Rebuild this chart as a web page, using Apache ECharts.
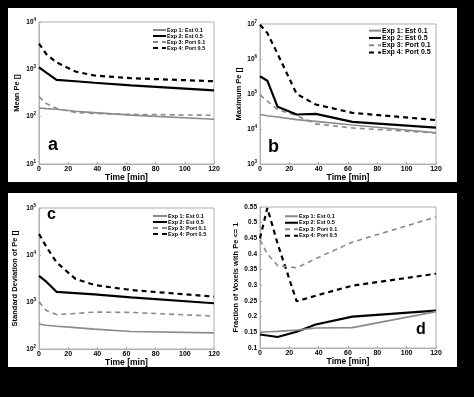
<!DOCTYPE html>
<html>
<head>
<meta charset="utf-8">
<script src="https://cdn.jsdelivr.net/npm/echarts@6/dist/echarts.min.js"></script>
<style>
  html, body { margin: 0; padding: 0; background: #000; }
  #main { width: 474px; height: 397px; }
</style>
</head>
<body>
<div id="main"></div>
<script>
var times = [0, 5, 12, 25, 38, 63, 120];
var expNames = ['Exp 1: Est 0.1', 'Exp 2: Est 0.5', 'Exp 3: Port 0.1', 'Exp 4: Port 0.5'];
var xTicks = [0, 20, 40, 60, 80, 100, 120];

// a: mean Pe
var meanExp1 = [152, 148, 143, 130, 122, 108, 88];
var meanExp2 = [1100, 850, 600, 560, 520, 460, 360];
var meanExp3 = [265, 190, 150, 122, 117, 112, 107];
var meanExp4 = [3500, 2100, 1400, 900, 740, 650, 560];

// b: maximum Pe
var maxExp1 = [26000, 24000, 22000, 18500, 16500, 13000, 7800];
var maxExp2 = [320000, 240000, 43000, 26000, 27000, 16000, 11000];
var maxExp3 = [95000, 63000, 36000, 24000, 14000, 10700, 7700];
var maxExp4 = [9500000, 5500000, 1400000, 100000, 50000, 29000, 18000];

// c: std of Pe
var stdExp1 = [340, 320, 305, 285, 265, 235, 220];
var stdExp2 = [3600, 2700, 1650, 1550, 1450, 1250, 940];
var stdExp3 = [1000, 660, 540, 570, 610, 600, 500];
var stdExp4 = [28000, 15000, 7000, 3100, 2300, 1800, 1300];

// d: fraction of voxels with Pe <= 1
var fracExp1 = [0.15, 0.152, 0.153, 0.157, 0.164, 0.165, 0.216];
var fracExp2 = [0.143, 0.14, 0.135, 0.152, 0.175, 0.2, 0.219];
var fracExp3 = [0.445, 0.40, 0.363, 0.356, 0.385, 0.438, 0.518];
var fracExp4 = [0.45, 0.547, 0.433, 0.249, 0.267, 0.299, 0.337];

var FONT = 'Liberation Sans';
var GRAY = '#8a8a8a';
var BOX = '#b0b0b0';

function pairs(vals) {
    return times.map(function (t, i) { return [t, vals[i]]; });
}

function lineStyles() {
    return [
        { color: GRAY, width: 1.6, type: 'solid' },
        { color: '#000', width: 2.2, type: 'solid' },
        { color: GRAY, width: 1.6, type: [5, 4] },
        { color: '#000', width: 2.2, type: [5, 4] }
    ];
}

function makeSeries(idx, sets) {
    var styles = lineStyles();
    return sets.map(function (vals, k) {
        return {
            name: expNames[k],
            type: 'line',
            xAxisIndex: idx,
            yAxisIndex: idx,
            data: pairs(vals),
            symbol: 'none',
            color: styles[k].color,
            lineStyle: styles[k],
            z: 10 - k,
            animation: false
        };
    });
}

function xAxis(idx) {
    return {
        gridIndex: idx,
        type: 'value',
        min: 0, max: 120, interval: 20,
        name: 'Time [min]',
        nameLocation: 'middle',
        nameGap: 9,
        nameMoveOverlap: false,
        nameTextStyle: { fontFamily: FONT, fontWeight: 'bold', fontSize: 8.5, color: '#000', verticalAlign: 'top' },
        axisLine: { show: true, lineStyle: { color: BOX, width: 1 } },
        axisTick: { show: true, inside: true, length: 2, lineStyle: { color: BOX } },
        axisLabel: {
            fontFamily: FONT, fontWeight: 'bold', fontSize: 7, color: '#000', margin: 2,
            formatter: function (v) { return xTicks.indexOf(v) >= 0 ? String(v) : ''; }
        },
        splitLine: { show: false }
    };
}

function logAxis(idx, min, max, name, gap) {
    return {
        gridIndex: idx,
        type: 'log',
        logBase: 10,
        min: min, max: max,
        name: name,
        nameLocation: 'middle',
        nameGap: gap,
        nameTextStyle: { fontFamily: FONT, fontWeight: 'bold', fontSize: 7.5, color: '#000' },
        axisLine: { show: true, lineStyle: { color: BOX, width: 1 } },
        axisTick: { show: true, inside: true, length: 2, lineStyle: { color: BOX } },
        axisLabel: {
            fontFamily: FONT, fontWeight: 'bold', fontSize: 6.5, color: '#000', margin: 3,
            formatter: function (v) { return '10{s|' + Math.round(Math.log10(v)) + '}'; },
            rich: { s: { fontFamily: FONT, fontWeight: 'bold', fontSize: 4.5, color: '#000', padding: [0, 0, 5, 0] } }
        },
        splitLine: { show: false }
    };
}

function legend(left, top, size, rowH, iconW) {
    return {
        orient: 'vertical',
        left: left, top: top,
        data: expNames,
        itemWidth: iconW,
        itemHeight: rowH,
        itemGap: 0,
        padding: 0,
        selectedMode: false,
        itemStyle: { opacity: 0 },
        textStyle: { fontFamily: FONT, fontWeight: 'bold', fontSize: size, lineHeight: rowH, color: '#000', padding: [0, 0, 0, -4] }
    };
}

function letter(txt, x, y, size) {
    return {
        type: 'text', x: x, y: y, z: 20,
        style: { text: txt, fontFamily: FONT, fontWeight: 'bold', fontSize: size, fill: '#000', textVerticalAlign: 'bottom' }
    };
}

var fracAxis = {
    gridIndex: 3,
    type: 'value',
    min: 0.1, max: 0.55, interval: 0.05,
    name: 'Fraction of Voxels with Pe <= 1',
    nameLocation: 'middle',
    nameGap: 20,
    nameTextStyle: { fontFamily: FONT, fontWeight: 'bold', fontSize: 7.5, color: '#000' },
    axisLine: { show: true, lineStyle: { color: BOX, width: 1 } },
    axisTick: { show: true, inside: true, length: 2, lineStyle: { color: BOX } },
    axisLabel: {
        fontFamily: FONT, fontWeight: 'bold', fontSize: 6.5, color: '#000', margin: 3,
        formatter: function (v) { return String(+v.toFixed(2)); }
    },
    splitLine: { show: false }
};

var chart = echarts.init(document.getElementById('main'));
chart.setOption({
    backgroundColor: '#000',
    animation: false,
    graphic: [
        { type: 'rect', z: -10, silent: true, shape: { x: 8, y: 8, width: 449, height: 174 }, style: { fill: '#fff' } },
        { type: 'rect', z: -10, silent: true, shape: { x: 8, y: 193, width: 449, height: 174 }, style: { fill: '#fff' } },
        letter('a', 48, 154, 18),
        letter('b', 268, 156, 18),
        letter('c', 47, 223, 16),
        letter('d', 416, 338, 16)
    ],
    grid: [
        { left: 39, top: 22, width: 175, height: 142, show: true, borderColor: BOX, borderWidth: 1, backgroundColor: 'transparent' },
        { left: 260, top: 24, width: 176, height: 140, show: true, borderColor: BOX, borderWidth: 1, backgroundColor: 'transparent' },
        { left: 39, top: 208, width: 175, height: 141, show: true, borderColor: BOX, borderWidth: 1, backgroundColor: 'transparent' },
        { left: 260, top: 207, width: 176, height: 141, show: true, borderColor: BOX, borderWidth: 1, backgroundColor: 'transparent' }
    ],
    xAxis: [xAxis(0), xAxis(1), xAxis(2), xAxis(3)],
    yAxis: [
        logAxis(0, 10, 10000, 'Mean Pe []', 18),
        logAxis(1, 1000, 10000000, 'Maximum Pe []', 13),
        logAxis(2, 100, 100000, 'Standard Deviation of Pe []', 20),
        fracAxis
    ],
    legend: [
        legend(152, 27, 5.5, 5, 13),
        legend(368, 27, 7, 7.3, 12),
        legend(152, 213, 5.5, 6, 14),
        legend(284, 213, 5.5, 6.5, 13)
    ],
    series: [].concat(
        makeSeries(0, [meanExp1, meanExp2, meanExp3, meanExp4]),
        makeSeries(1, [maxExp1, maxExp2, maxExp3, maxExp4]),
        makeSeries(2, [stdExp1, stdExp2, stdExp3, stdExp4]),
        makeSeries(3, [fracExp1, fracExp2, fracExp3, fracExp4])
    )
});
</script>
</body>
</html>
